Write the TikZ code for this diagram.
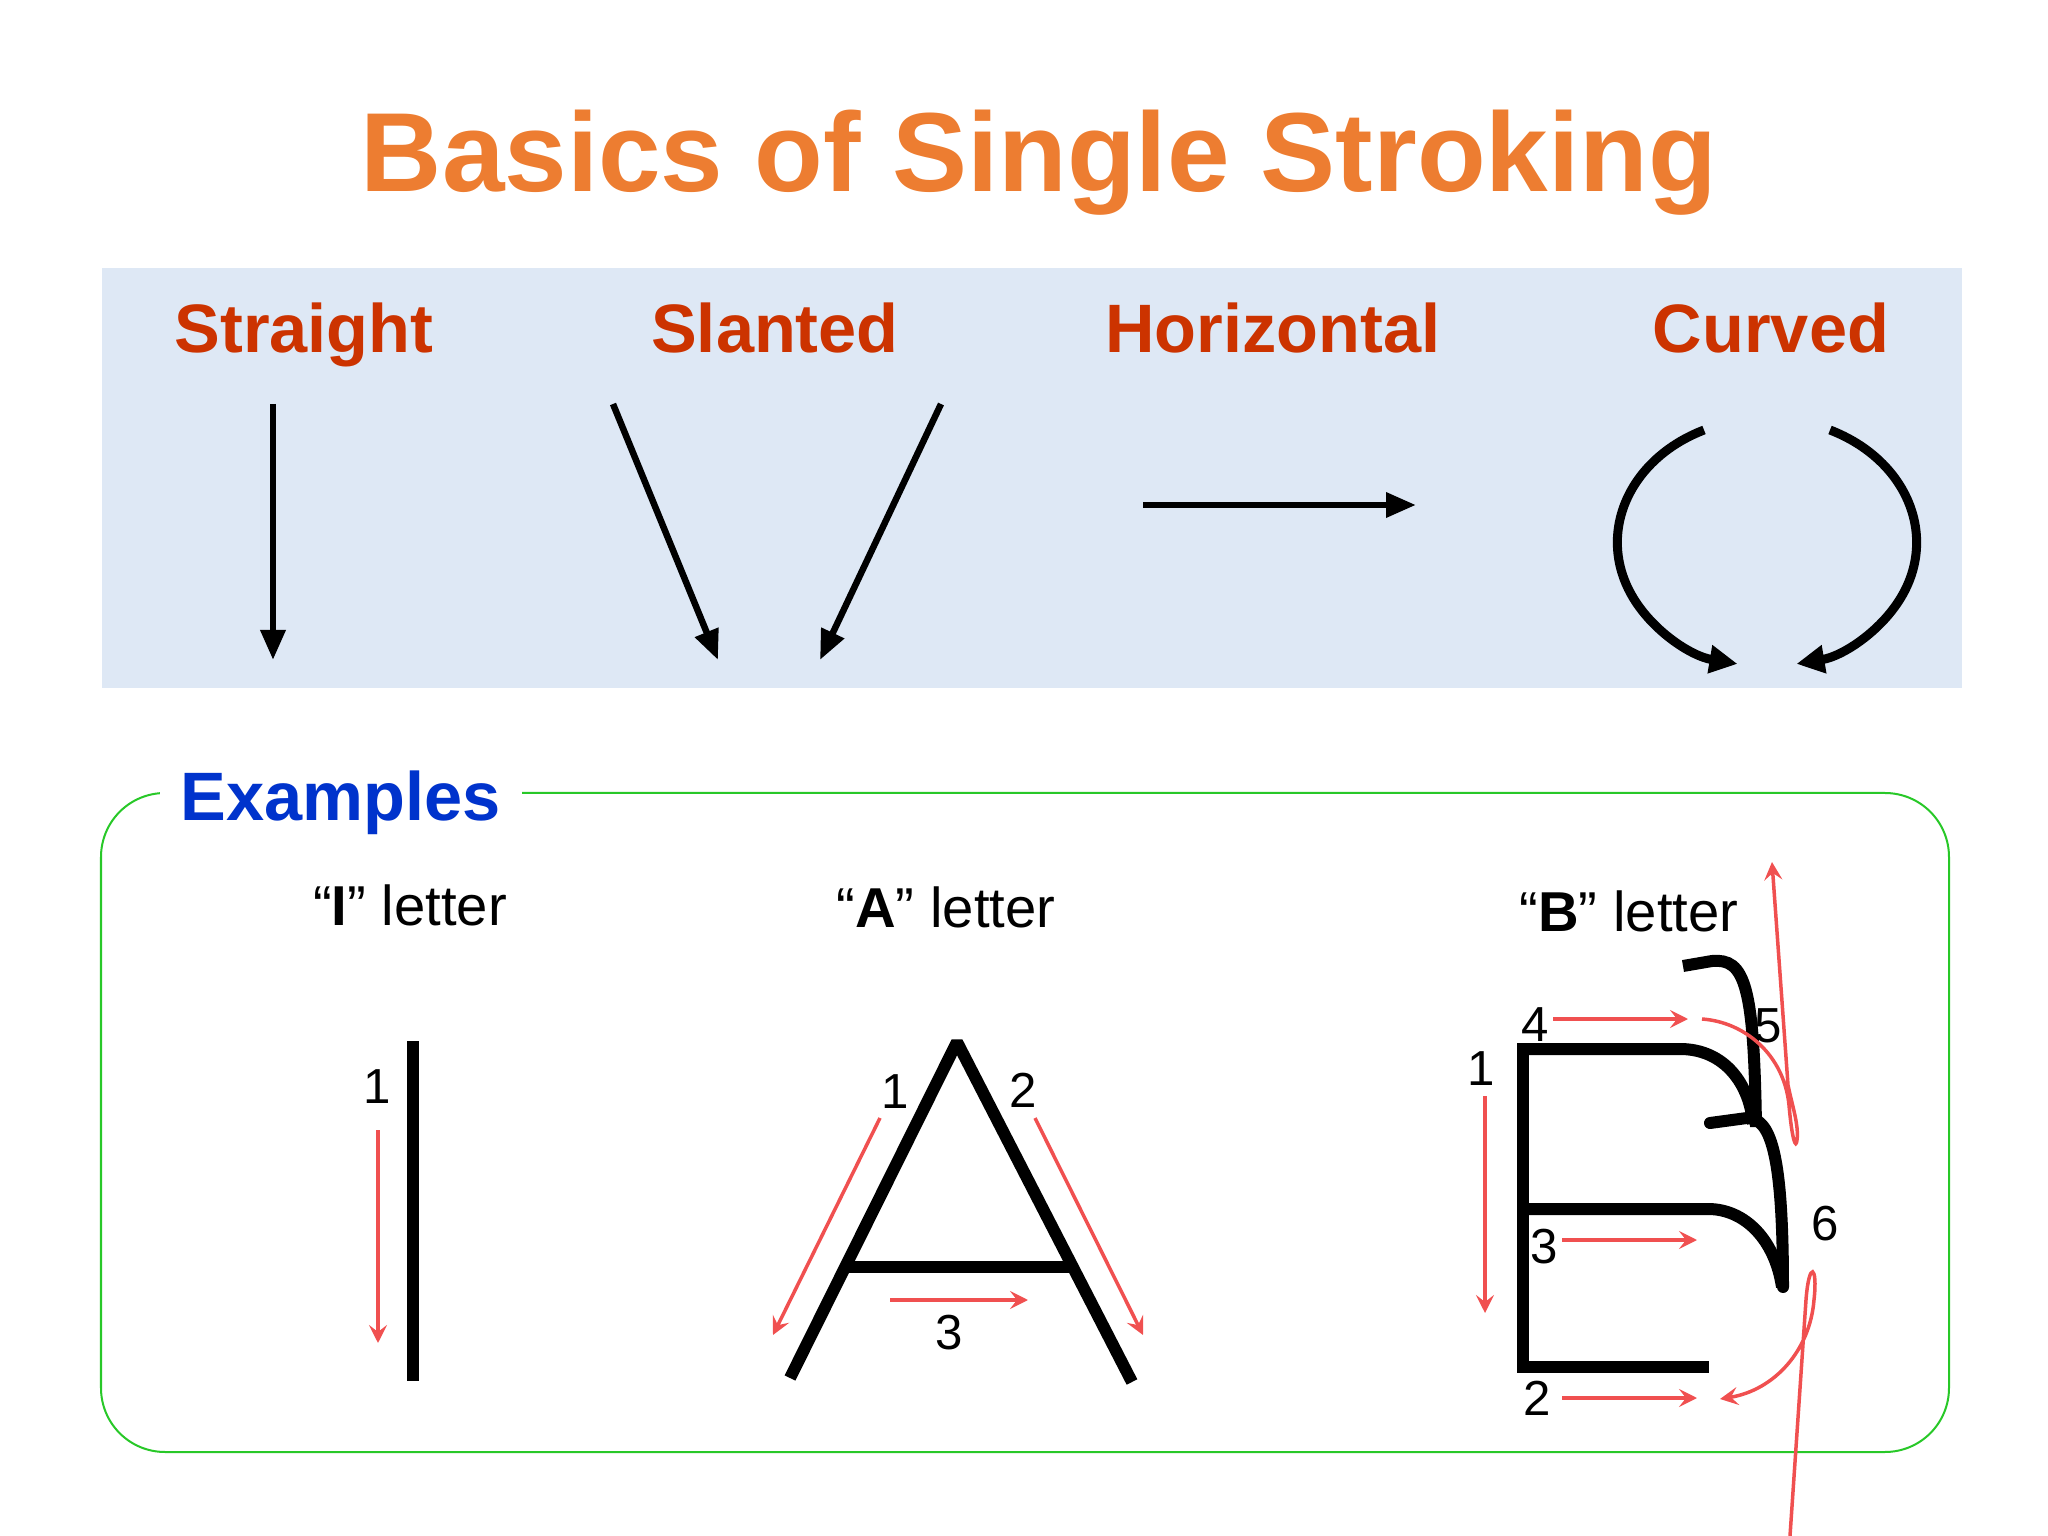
\documentclass[tikz,border=0pt]{standalone}
\usepackage{fontspec}
\setmainfont{Liberation Sans}
\usetikzlibrary{arrows.meta}
\definecolor{titleorange}{RGB}{237,125,49}
\definecolor{typered}{RGB}{204,51,0}
\definecolor{panelblue}{RGB}{222,232,245}
\definecolor{exblue}{RGB}{0,51,204}
\definecolor{boxgreen}{RGB}{40,200,40}
\definecolor{hintred}{RGB}{240,80,80}

\begin{document}
\begin{tikzpicture}[
    typelabel/.style={font=\fontsize{19.5}{23}\selectfont\bfseries, text=typered, anchor=base},
    typearrow/.style={line width=0.065cm, -{Triangle[length=0.3cm, width=0.24cm]}},
    curvearrow/.style={line width=0.09cm, -{Triangle[length=0.28cm, width=0.27cm]}},
    letterlabel/.style={font=\fontsize{16}{19}\selectfont, anchor=base},
    penstroke/.style={line width=0.12cm},
    hint/.style={hintred, line width=0.035cm, -{Stealth[length=0.18cm, width=0.18cm, inset=0.07cm]}},
    num/.style={font=\fontsize{14}{17}\selectfont, inner sep=0pt}
]
    \useasboundingbox (0,0) rectangle (20.48,-15.36);

    % Title
    \node[font=\fontsize{32}{38}\selectfont\bfseries, text=titleorange, anchor=base] (title) at (10.39,-1.92) {Basics of Single Stroking};

    % Stroke types
    \fill[panelblue] (1.02,-2.68) rectangle (19.62,-6.88);
    \foreach \x/\name/\txt in {3.04/straight/Straight, 7.75/slanted/Slanted, 12.73/horizontal/Horizontal, 17.71/curved/Curved} {
        \node[typelabel] (\name) at (\x,-3.53) {\txt};
    }
    \draw[typearrow] (2.73,-4.04) -- (2.73,-6.60);
    \draw[typearrow] (6.13,-4.04) -- (7.18,-6.60);
    \draw[typearrow] (9.41,-4.04) -- (8.20,-6.60);
    \draw[typearrow] (11.43,-5.05) -- (14.16,-5.05);
    \draw[curvearrow] (17.04,-4.30) arc[start angle=115, end angle=258.5, x radius=1.5, y radius=1.24];
    \draw[curvearrow] (18.30,-4.30) arc[start angle=65, end angle=-78.5, x radius=1.5, y radius=1.24];

    % Examples box
    \draw[boxgreen, line width=0.02cm, rounded corners=0.64cm] (1.01,-7.93) rectangle (19.49,-14.52);
    \node[font=\fontsize{19.5}{23}\selectfont\bfseries, text=exblue, fill=white, inner xsep=6pt, anchor=base] (examples) at (3.41,-8.21) {Examples};

    \node[letterlabel] (iletter) at (4.10,-9.25) {``\textbf{I}'' letter};
    \node[letterlabel] (aletter) at (9.46,-9.27) {``\textbf{A}'' letter};
    \node[letterlabel] (bletter) at (16.29,-9.31) {``\textbf{B}'' letter};

    % I
    \draw[penstroke] (4.13,-10.41) -- (4.13,-13.81);
    \node[num] (i1) at (3.77,-10.87) {1};
    \draw[hint] (3.78,-11.30) -- (3.78,-13.43);

    % A
    \draw[penstroke, line join=bevel] (7.90,-13.78) -- (9.57,-10.42) -- (11.32,-13.82);
    \draw[penstroke] (8.45,-12.67) -- (10.73,-12.67);
    \node[num] (a1) at (8.95,-10.92) {1};
    \node[num] (a2) at (10.23,-10.90) {2};
    \node[num] (a3) at (9.49,-13.33) {3};
    \draw[hint] (8.80,-11.18) -- (7.73,-13.35);
    \draw[hint] (10.35,-11.18) -- (11.43,-13.35);
    \draw[hint] (8.90,-13.00) -- (10.28,-13.00);

    % B
    \draw[penstroke] (15.23,-10.43) -- (15.23,-13.73);
    \draw[penstroke] (15.17,-10.49) -- (16.80,-10.49) .. controls (17.25,-10.49) and (17.50,-10.85) .. (17.53,-11.24);
    \draw[penstroke] (16.83,-9.66) -- (17.12,-9.61) .. controls (17.45,-9.58) and (17.54,-9.85) .. (17.56,-11.27);
    \draw[penstroke] (15.17,-12.09) -- (17.08,-12.09) .. controls (17.45,-12.09) and (17.75,-12.40) .. (17.82,-12.87);
    \draw[penstroke, line cap=round] (17.10,-11.23) -- (17.47,-11.18) .. controls (17.70,-11.18) and (17.83,-11.50) .. (17.83,-12.87);
    \draw[penstroke] (15.17,-13.67) -- (17.09,-13.67);

    \node[num] (b1) at (14.81,-10.69) {1};
    \draw[hint] (14.85,-10.96) -- (14.85,-13.13);
    \foreach \n/\lx/\ly/\ax/\ay in {4/15.35/10.25/15.53/10.19, 3/15.44/12.47/15.62/12.40, 2/15.37/13.98/15.62/13.98} {
        \node[num] (b\n) at (\lx,-\ly) {\n};
        \draw[hint] (\ax,-\ay) -- (\ax+1.35,-\ay);
    }
    \node[num] (b5) at (17.68,-10.26) {5};
    \node[num] (b6) at (18.25,-12.24) {6};
    \draw[hint] (17.02,-10.19) .. controls (17.45,-10.22) and (17.84,-10.55) .. (17.89,-11.05)
        .. controls (17.92,-11.40) and (17.96,-11.50) .. (17.97,-11.40)
        .. controls (17.99,-11.25) and (17.92,-11.05) .. (17.88,-10.85) -- (17.72,-8.62);
    \draw[hint] (17.90,-15.36) -- (18.06,-13.00) .. controls (18.09,-12.60) and (18.18,-12.65) .. (18.14,-13.00)
        .. controls (18.10,-13.50) and (17.75,-13.90) .. (17.20,-13.99);
\end{tikzpicture}
\end{document}
